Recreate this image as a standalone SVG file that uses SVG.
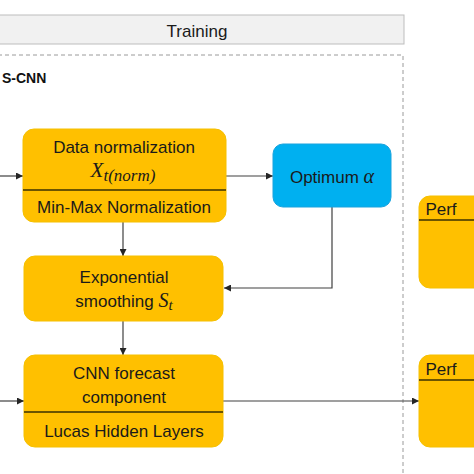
<svg xmlns="http://www.w3.org/2000/svg" width="474" height="474" viewBox="0 0 474 474">
<defs>
<marker id="ah" viewBox="0 0 10 10" refX="10" refY="5" markerWidth="7" markerHeight="7" markerUnits="userSpaceOnUse" orient="auto"><path d="M0,0 L10,5 L0,10 z" fill="#262626"/></marker>
<style>
.t{font-family:"Liberation Sans",Arial,sans-serif;font-size:17px;fill:#1a1a1a;text-anchor:middle}
.m{font-family:"Liberation Serif","Times New Roman",serif;font-style:italic;fill:#1a1a1a}
.box{fill:#FFC000;stroke:#F5C000;stroke-width:1}
.div{stroke:#3a3000;stroke-width:1.3}
.c{fill:none;stroke:#404040;stroke-width:1.2}
</style>
</defs>
<rect width="474" height="474" fill="#fff"/>
<g id="training">
<rect x="-2" y="15" width="406" height="29" fill="#f1f1f1" stroke="#bdbdbd" stroke-width="1"/>
<text class="t" x="197" y="37">Training</text>
</g>
<g id="scnn-frame">
<path d="M-2,55 H403 V476" fill="none" stroke="#9a9a9a" stroke-width="1" stroke-dasharray="4,3"/>
<text x="2" y="83" font-family="Liberation Sans,Arial,sans-serif" font-weight="bold" font-size="14" fill="#111">S-CNN</text>
</g>
<g id="connectors">
<path class="c" d="M-2,176 H23" marker-end="url(#ah)"/>
<path class="c" d="M226,176 H273" marker-end="url(#ah)"/>
<path class="c" d="M123,222 V256" marker-end="url(#ah)"/>
<path class="c" d="M332,207 V288 H224" marker-end="url(#ah)"/>
<path class="c" d="M123,321 V355" marker-end="url(#ah)"/>
<path class="c" d="M-2,401 H24" marker-end="url(#ah)"/>
<path class="c" d="M223,401 H419" marker-end="url(#ah)"/>
</g>
<g id="data-normalization">
<rect class="box" x="23" y="129" width="203" height="93" rx="11"/>
<line class="div" x1="23" y1="190" x2="226" y2="190"/>
<text class="t" x="124" y="153">Data normalization</text>
<text class="m" x="123" y="177" text-anchor="middle"><tspan font-size="21">X</tspan><tspan font-size="17" dy="4">t(norm)</tspan></text>
<text class="t" x="124" y="213">Min-Max Normalization</text>
</g>
<g id="optimum-alpha">
<rect x="273" y="144" width="118" height="63" rx="10" fill="#00B0F0" stroke="#1aa3dd" stroke-width="1"/>
<text class="t" x="332" y="183">Optimum <tspan class="m" font-size="20">α</tspan></text>
</g>
<g id="exponential-smoothing">
<rect class="box" x="24" y="256" width="199" height="65" rx="11"/>
<text class="t" x="124" y="283">Exponential</text>
<text class="t" x="124" y="307">smoothing <tspan class="m" font-size="20">S</tspan><tspan class="m" font-size="15" dy="3">t</tspan></text>
</g>
<g id="cnn-forecast">
<rect class="box" x="24" y="355" width="199" height="92" rx="11"/>
<line class="div" x1="24" y1="412" x2="223" y2="412"/>
<text class="t" x="124" y="379">CNN forecast</text>
<text class="t" x="124" y="403">component</text>
<text class="t" x="124" y="437">Lucas Hidden Layers</text>
</g>
<g id="performance-1">
<rect class="box" x="419" y="196" width="70" height="92" rx="11"/>
<line class="div" x1="419" y1="220" x2="474" y2="220"/>
<text class="t" x="441" y="215" text-anchor="start">Perf</text>
</g>
<g id="performance-2">
<rect class="box" x="419" y="355" width="70" height="92" rx="11"/>
<line class="div" x1="419" y1="380" x2="474" y2="380"/>
<text class="t" x="441" y="375" text-anchor="start">Perf</text>
</g>
</svg>
